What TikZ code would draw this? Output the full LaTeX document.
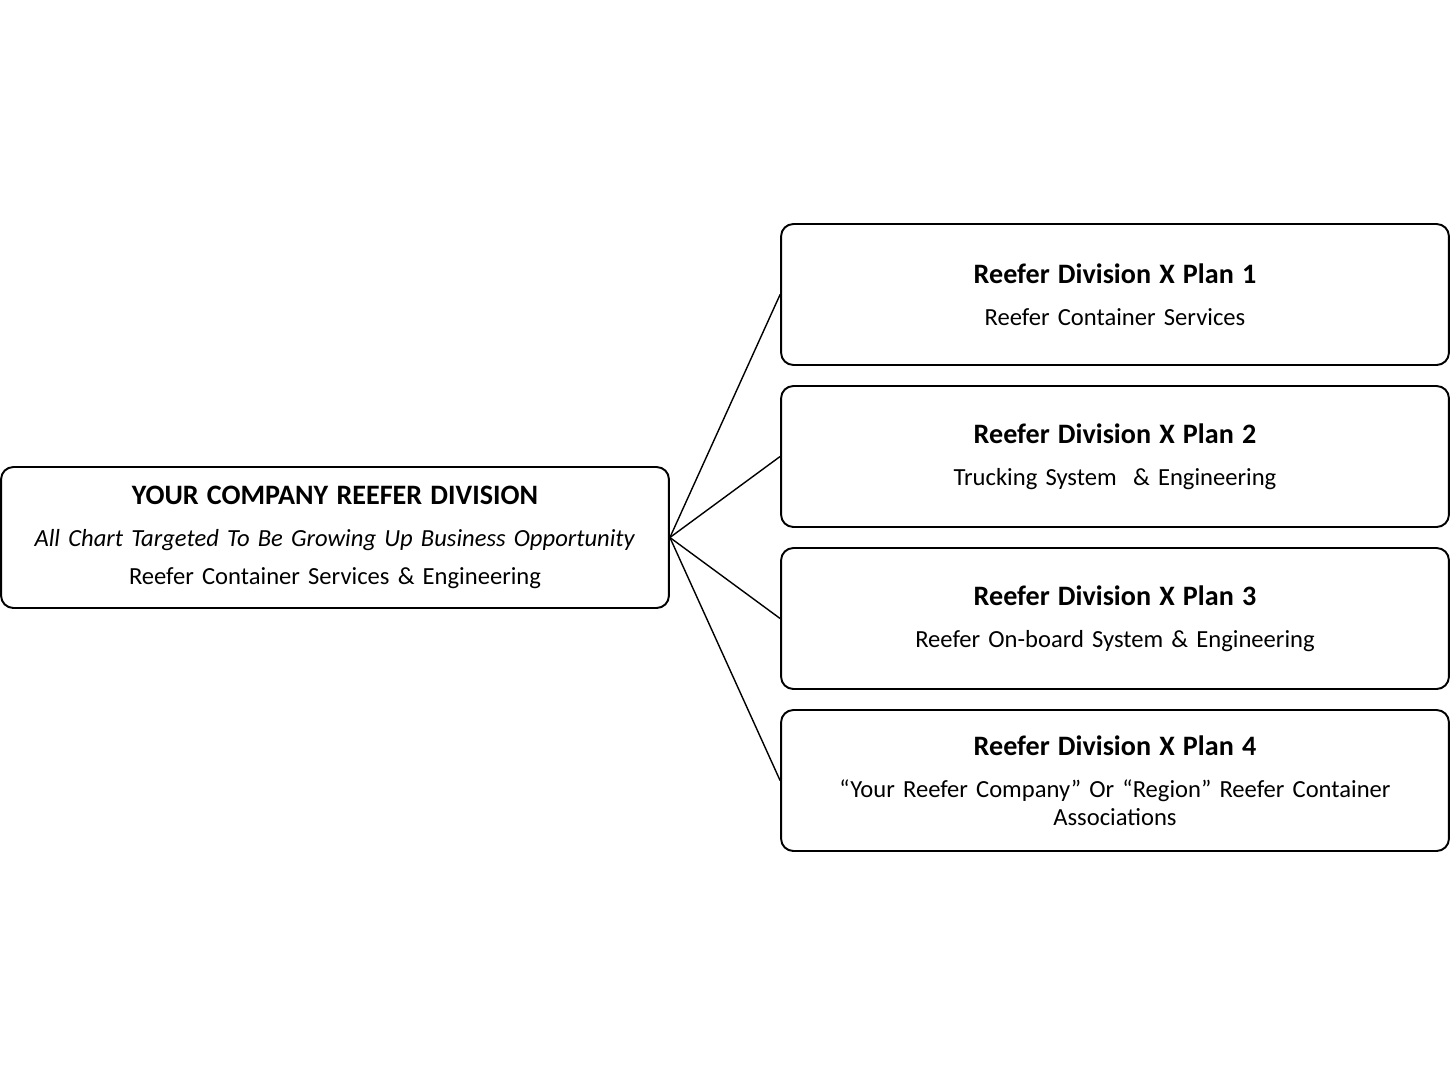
\documentclass[tikz,border=0pt]{standalone}
\usepackage{fontspec}
\setmainfont{Carlito}
\newcommand{\plantitle}[1]{{\fontsize{16}{16}\selectfont\bfseries #1}}
\begin{document}
\begin{tikzpicture}[x=0.02cm,y=-0.02cm,
        plan/.style={draw,line width=1.1pt,rounded corners=7pt,minimum width=13.36cm,minimum height=2.82cm,
                     text width=12.5cm,align=center,font=\fontsize{14}{16}\selectfont},
        link/.style={line width=0.8pt}]

                \useasboundingbox (0,0) rectangle (1450,1075);

                % main division box
                \node [plan] (root) at (335,537.5) {\plantitle{YOUR COMPANY REEFER DIVISION}\\[8pt]
                    \textit{All Chart Targeted To Be Growing Up Business Opportunity}\\[5.5pt]
                    Reefer Container Services \& Engineering};

                % plan boxes
                \node [plan] (plan1) at (1115,294.5) {\plantitle{Reefer Division X Plan 1}\\[8pt] Reefer Container Services};
                \node [plan] (plan2) at (1115,456.5) {\plantitle{Reefer Division X Plan 2}\\[8pt] Trucking System\ \ \& Engineering};
                \node [plan] (plan3) at (1115,618.5) {\plantitle{Reefer Division X Plan 3}\\[8pt] Reefer On-board System \& Engineering};
                \node [plan] (plan4) at (1115,780.5) {\plantitle{Reefer Division X Plan 4}\\[8pt]
                    “Your Reefer Company” Or “Region” Reefer Container\\ Associations};

                \foreach \k in {1,...,4}
                    \draw [link] (root.east)--(plan\k.west);
            \end{tikzpicture}
\end{document}
